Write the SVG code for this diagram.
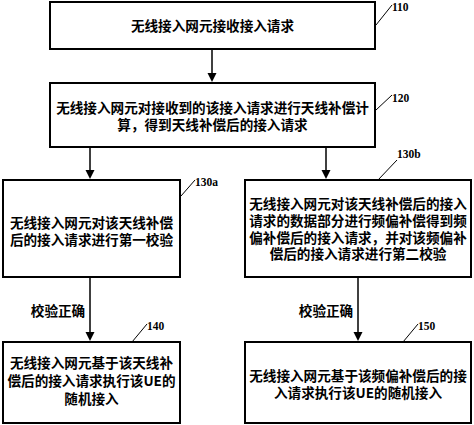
<svg xmlns="http://www.w3.org/2000/svg" width="474" height="425" viewBox="0 0 474 425">
<defs>
<style>
.box{fill:#fff;stroke:#000;stroke-width:2}
.t{font-family:"Noto Sans CJK SC","Liberation Serif",serif;font-size:13.6px;font-weight:bold;fill:#000;text-anchor:middle;dominant-baseline:central}
.n{font-family:"Liberation Serif",serif;font-size:11.5px;font-weight:bold;fill:#000}
.c{stroke:#000;stroke-width:1.5;fill:none}
.ld{stroke:#000;stroke-width:1;fill:none}
.ah{fill:#000}
</style>
</defs>
<g id="connectors">
<line class="c" x1="212" y1="49" x2="212" y2="76"/>
<polygon class="ah" points="207.5,73 216.5,73 212,82"/>
<line class="c" x1="90" y1="147" x2="90" y2="173"/>
<polygon class="ah" points="85.5,170 94.5,170 90,179"/>
<line class="c" x1="326" y1="147" x2="326" y2="173"/>
<polygon class="ah" points="321.5,170 330.5,170 326,179"/>
<line class="c" x1="90" y1="277" x2="90" y2="335"/>
<polygon class="ah" points="85.5,332 94.5,332 90,341"/>
<line class="c" x1="358" y1="277" x2="358" y2="335"/>
<polygon class="ah" points="353.5,332 362.5,332 358,341"/>
<text class="t" x="58" y="310">校验正确</text>
<text class="t" x="326" y="310">校验正确</text>
</g>
<g id="n110">
<rect class="box" x="50" y="2" width="325" height="47"/>
<text class="t" x="212.5" y="25">无线接入网元接收接入请求</text>
<line class="ld" x1="376" y1="25" x2="392" y2="5"/>
<text class="n" x="392" y="11">110</text>
</g>
<g id="n120">
<rect class="box" x="50" y="83" width="325" height="64"/>
<text class="t"><tspan x="212.5" y="107">无线接入网元对接收到的该接入请求进行天线补偿计</tspan><tspan x="212.5" y="124">算，得到天线补偿后的接入请求</tspan></text>
<line class="ld" x1="376" y1="110" x2="392" y2="95"/>
<text class="n" x="392" y="102">120</text>
</g>
<g id="n130a">
<rect class="box" x="3" y="180" width="177" height="97"/>
<text class="t"><tspan x="91.5" y="222">无线接入网元对该天线补偿</tspan><tspan x="91.5" y="238.5">后的接入请求进行第一校验</tspan></text>
<line class="ld" x1="181" y1="196" x2="195" y2="180"/>
<text class="n" x="195" y="186">130a</text>
</g>
<g id="n130b">
<rect class="box" x="245" y="180" width="226" height="97"/>
<text class="t"><tspan x="358" y="203">无线接入网元对该天线补偿后的接入</tspan><tspan x="358" y="220">请求的数据部分进行频偏补偿得到频</tspan><tspan x="358" y="237">偏补偿后的接入请求，并对该频偏补</tspan><tspan x="358" y="253">偿后的接入请求进行第二校验</tspan></text>
<line class="ld" x1="378" y1="180" x2="397" y2="160"/>
<text class="n" x="397" y="158">130b</text>
</g>
<g id="n140">
<rect class="box" x="3" y="342" width="177" height="81"/>
<text class="t"><tspan x="91.5" y="362">无线接入网元基于该天线补</tspan><tspan x="91.5" y="380">偿后的接入请求执行该UE的</tspan><tspan x="91.5" y="398">随机接入</tspan></text>
<line class="ld" x1="132" y1="342" x2="147" y2="324"/>
<text class="n" x="147" y="330">140</text>
</g>
<g id="n150">
<rect class="box" x="245" y="342" width="226" height="81"/>
<text class="t"><tspan x="358" y="375">无线接入网元基于该频偏补偿后的接</tspan><tspan x="358" y="392">入请求执行该UE的随机接入</tspan></text>
<line class="ld" x1="403" y1="342" x2="418" y2="324"/>
<text class="n" x="418" y="330">150</text>
</g>
</svg>
